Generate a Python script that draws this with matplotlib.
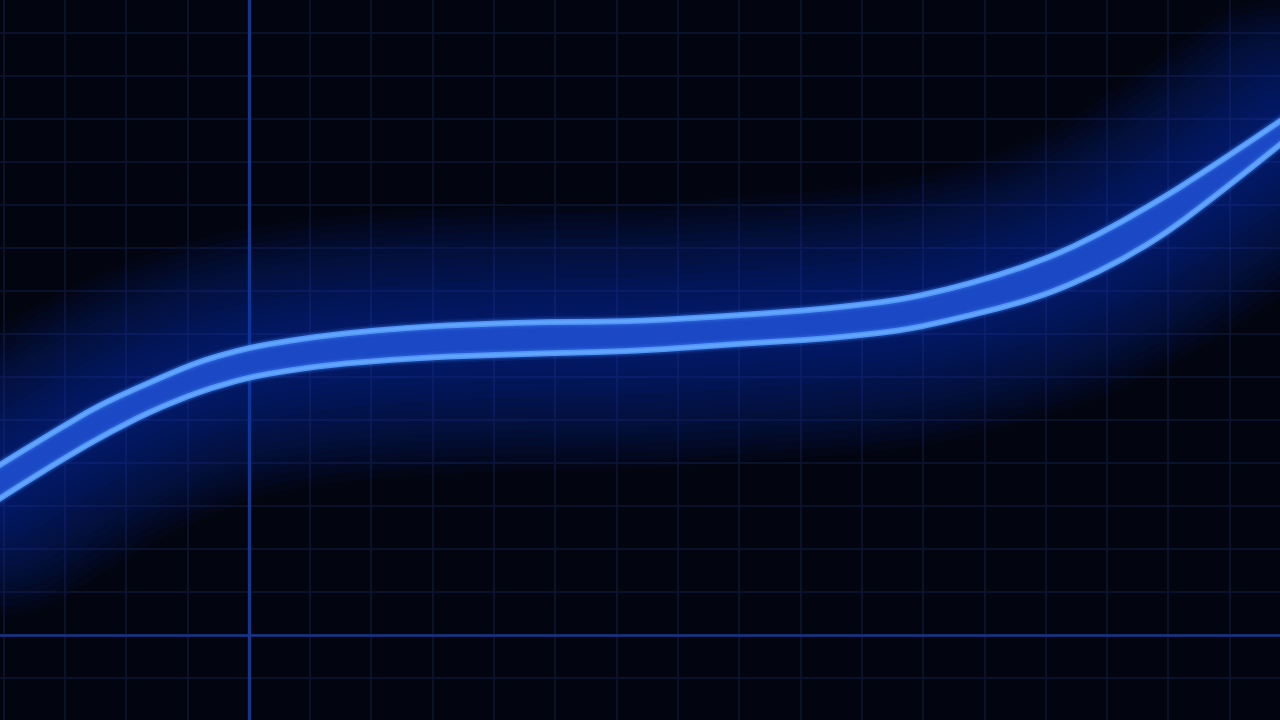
import matplotlib
matplotlib.use("Agg")
import matplotlib.pyplot as plt
from matplotlib.path import Path
from matplotlib.patches import PathPatch
import numpy as np

# ---- data (grid units; origin at the bright axis lines) ----
x_vals = [-4.1, -3.25, -2.45, -1.6, -0.8, 0.0, 0.85, 2.8, 4.4, 6.4, 8.0, 9.65,
          10.75, 11.6, 13.25, 14.85, 15.95, 16.85]
upper_vals = [3.92, 4.66, 5.32, 5.88, 6.35, 6.67, 6.88, 7.16, 7.26, 7.31, 7.44, 7.63,
              7.84, 8.12, 8.91, 10.12, 11.12, 11.98]
lower_vals = [3.14, 3.90, 4.57, 5.19, 5.65, 5.98, 6.19, 6.44, 6.53, 6.62, 6.77, 6.93,
              7.12, 7.38, 8.07, 9.26, 10.42, 11.44]
x_grid = list(range(-4, 17))
y_grid = list(range(-1, 15))

BG = "#02040f"


def smooth_path(xs, ys):
    """Piecewise cubic Hermite curve (in x) through the points, as a Bezier Path."""
    xs = np.asarray(xs, float)
    ys = np.asarray(ys, float)
    n = len(xs)
    d = np.diff(ys) / np.diff(xs)
    m = np.empty(n)
    m[0], m[-1] = d[0], d[-1]
    h = np.diff(xs)
    for i in range(1, n - 1):
        m[i] = (d[i - 1] * h[i] + d[i] * h[i - 1]) / (h[i] + h[i - 1])
    verts = [(xs[0], ys[0])]
    codes = [Path.MOVETO]
    for i in range(n - 1):
        dx = h[i] / 3.0
        verts += [(xs[i] + dx, ys[i] + m[i] * dx),
                  (xs[i + 1] - dx, ys[i + 1] - m[i + 1] * dx),
                  (xs[i + 1], ys[i + 1])]
        codes += [Path.CURVE4] * 3
    return Path(np.array(verts), codes)


def band_path(xs, ys_top, ys_bot):
    top = smooth_path(xs, ys_top)
    bot = smooth_path(xs[::-1], ys_bot[::-1])
    verts = np.concatenate([top.vertices, bot.vertices, top.vertices[:1]])
    codes = np.concatenate([top.codes, [Path.LINETO] + list(bot.codes[1:]),
                            [Path.CLOSEPOLY]])
    return Path(verts, codes)


fig = plt.figure(figsize=(12.8, 7.2), dpi=100, facecolor=BG)
ax = fig.add_axes([0, 0, 1, 1])
ax.set_facecolor(BG)
ax.set_xlim(-4.06, 16.82)
ax.set_ylim(-1.98, 14.77)
ax.axis("off")

# grid
for gx in x_grid:
    ax.axvline(gx, color="#0c1430", lw=1.2, zorder=1)
for gy in y_grid:
    ax.axhline(gy, color="#0c1430", lw=1.2, zorder=1)
ax.axvline(0, color="#17358a", lw=2.4, zorder=2)
ax.axhline(0, color="#17358a", lw=1.8, zorder=2)

x = np.array(x_vals)
up = np.array(upper_vals)
lo = np.array(lower_vals)
mid = (up + lo) / 2

mid_path = smooth_path(x, mid)
up_path = smooth_path(x, up)
lo_path = smooth_path(x, lo)

# broad haze around the band
for w in np.linspace(190, 26, 15):
    ax.add_patch(PathPatch(mid_path, fill=False, edgecolor="#0c36bc", lw=w,
                           alpha=0.05, capstyle="round", joinstyle="round", zorder=3))

# band fill
ax.add_patch(PathPatch(band_path(x, up, lo), facecolor="#1b48c4", edgecolor="none",
                       zorder=4))

# glowing lines
for p in (up_path, lo_path):
    for w, a in ((9, 0.10), (6.5, 0.25)):
        ax.add_patch(PathPatch(p, fill=False, edgecolor="#3a7cf0", lw=w, alpha=a,
                               capstyle="round", joinstyle="round", zorder=5))
    ax.add_patch(PathPatch(p, fill=False, edgecolor="#5297f8", lw=4.2,
                           capstyle="round", joinstyle="round", zorder=6))
    ax.add_patch(PathPatch(p, fill=False, edgecolor="#6aabff", lw=2.0, alpha=0.7,
                           capstyle="round", joinstyle="round", zorder=7))

fig.savefig("out.png", dpi=100, facecolor=BG)
